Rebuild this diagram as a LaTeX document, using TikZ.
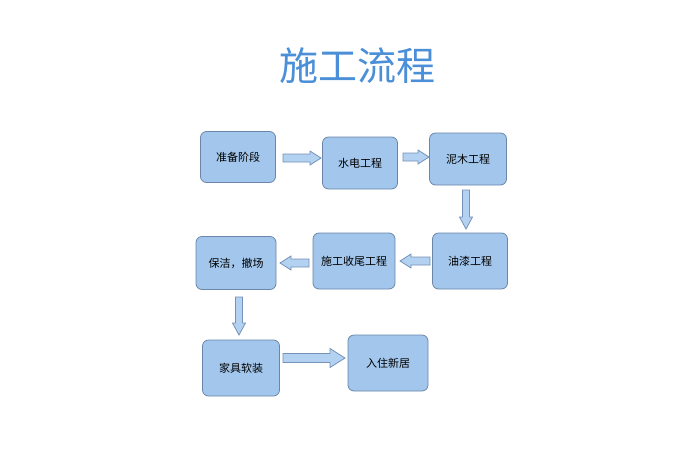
\documentclass[tikz,border=0pt]{standalone}
\usepackage{fontspec}
\setmainfont{Noto Sans CJK SC}
\usepackage{tikz}
\usetikzlibrary{calc}
\pgfdeclarelayer{bglayer}
\pgfdeclarelayer{nodelayer}
\pgfdeclarelayer{edgelayer}
\pgfsetlayers{bglayer,edgelayer,nodelayer,main}

\definecolor{boxfill}{HTML}{A2C6EC}
\definecolor{boxline}{HTML}{6B86A8}
\definecolor{arrfill}{HTML}{B3D1F0}
\definecolor{arrline}{HTML}{7592B8}
\definecolor{titleblue}{HTML}{4A8FD8}

\tikzset{
  stage/.style={draw=boxline, fill=boxfill, rounded corners=6pt, line width=0.8pt,
    inner sep=0pt, font=\fontsize{11}{13}\selectfont},
  flowarr/.style={draw=arrline, fill=arrfill, line width=0.8pt, line join=miter}
}

% block arrow: from, to, shaft half width, head half width, head length
\newcommand{\flowarrow}[5]{%
  \draw[flowarr] let \p1=($(#2)-(#1)$), \n1={veclen(\x1,\y1)}, \n2={atan2(\y1,\x1)} in
    [shift={(#1)}, rotate=\n2]
    (0pt,-#3pt) -- (\n1-#5pt,-#3pt) -- (\n1-#5pt,-#4pt) -- (\n1,0pt)
    -- (\n1-#5pt,#4pt) -- (\n1-#5pt,#3pt) -- (0pt,#3pt) -- cycle;}

\begin{document}
\begin{tikzpicture}[x=1pt, y=-1pt]
  \begin{pgfonlayer}{bglayer}
    \fill[white] (0,0) rectangle (700,450);
  \end{pgfonlayer}
  \useasboundingbox (0,0) rectangle (700,450);
  \node [text=titleblue, font=\fontsize{39}{41}\selectfont] (title) at (357,66) {施工流程};
  \begin{pgfonlayer}{nodelayer}
    \node [stage, minimum width=75pt, minimum height=51pt] (prep) at (238,157) {准备阶段};
    \node [stage, minimum width=75pt, minimum height=52pt] (water) at (360,163) {水电工程};
    \node [stage, minimum width=77pt, minimum height=52pt] (wood) at (468,159) {泥木工程};
    \node [stage, minimum width=75pt, minimum height=56pt] (paint) at (470,261) {油漆工程};
    \node [stage, minimum width=82pt, minimum height=56pt] (finish) at (354,261) {施工收尾工程};
    \node [stage, minimum width=80pt, minimum height=53pt] (clean) at (236,263) {保洁，撤场};
    \node [stage, minimum width=77pt, minimum height=56pt] (furn) at (241,368) {家具软装};
    \node [stage, minimum width=80pt, minimum height=56pt] (movein) at (388,363) {入住新居};
  \end{pgfonlayer}
  \begin{pgfonlayer}{edgelayer}
    \coordinate (a1s) at (283,158);  \coordinate (a1e) at (321,158);
    \coordinate (a2s) at (403,157);  \coordinate (a2e) at (429,157);
    \coordinate (a3s) at (466,190);  \coordinate (a3e) at (466,229);
    \coordinate (a4s) at (430,261);  \coordinate (a4e) at (400,261);
    \coordinate (a5s) at (309,263);  \coordinate (a5e) at (280,263);
    \coordinate (a6s) at (239,297);  \coordinate (a6e) at (239,335);
    \coordinate (a7s) at (283,358);  \coordinate (a7e) at (345,358);
    \flowarrow{a1s}{a1e}{4}{7}{11}
    \flowarrow{a2s}{a2e}{4}{7}{11}
    \flowarrow{a3s}{a3e}{3.5}{6.5}{12}
    \flowarrow{a4s}{a4e}{4}{7}{11}
    \flowarrow{a5s}{a5e}{4}{7}{11}
    \flowarrow{a6s}{a6e}{3.5}{6.5}{12}
    \flowarrow{a7s}{a7e}{4.5}{9.5}{15}
  \end{pgfonlayer}
\end{tikzpicture}
\end{document}
